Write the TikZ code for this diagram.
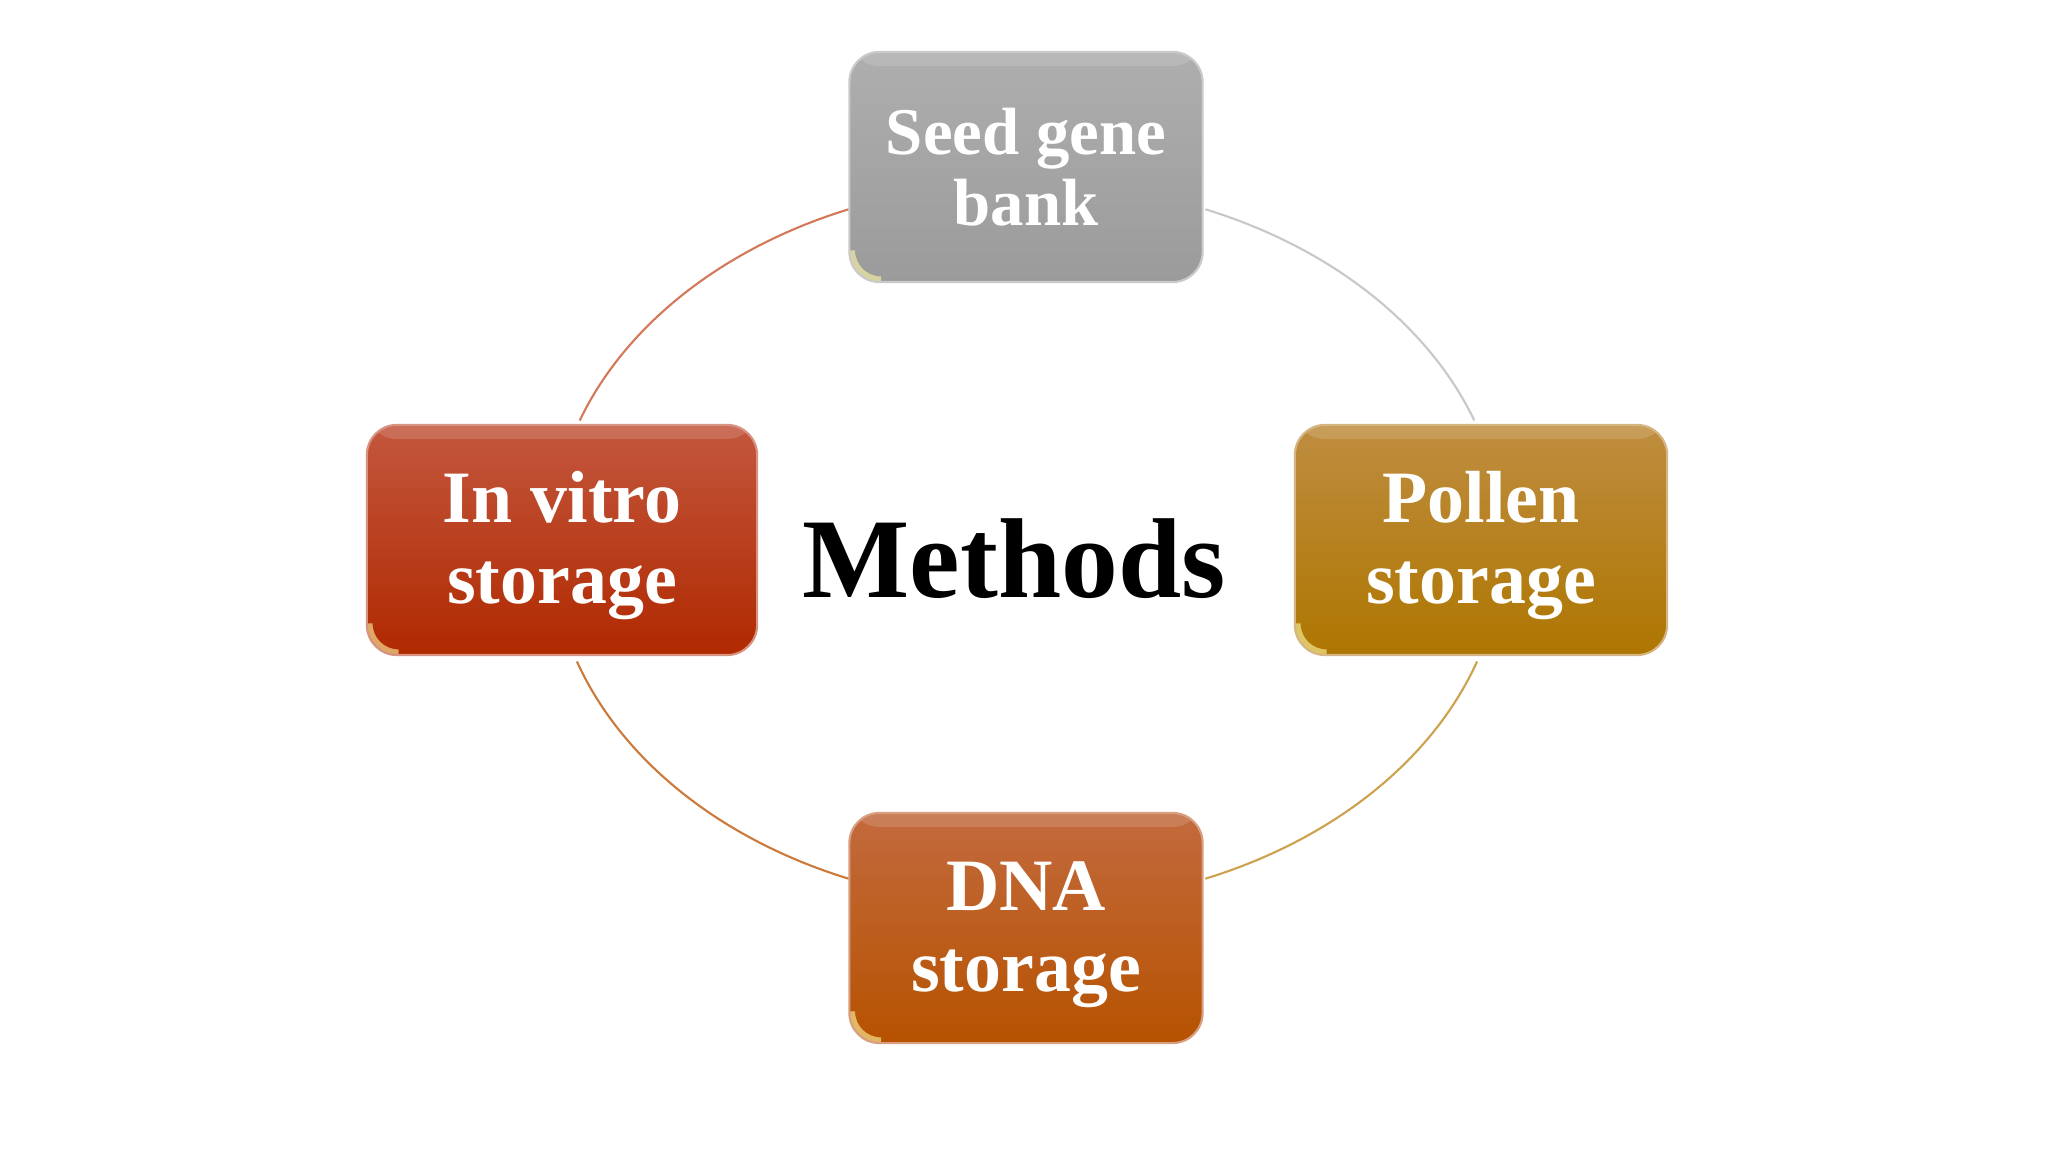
\documentclass[tikz,border=0pt]{standalone}
\usepackage{fontspec}
\setmainfont{Liberation Serif}
\usetikzlibrary{positioning}

\definecolor{seedtop}{HTML}{AEAEAE}
\definecolor{seedbot}{HTML}{9B9B9B}
\definecolor{vitrotop}{HTML}{C3573E}
\definecolor{vitrobot}{HTML}{B02900}
\definecolor{pollentop}{HTML}{BF8D40}
\definecolor{pollenbot}{HTML}{AE7600}
\definecolor{dnatop}{HTML}{C36A3E}
\definecolor{dnabot}{HTML}{B65200}
\definecolor{seedline}{HTML}{C8C8C8}
\definecolor{vitroline}{HTML}{D4785A}
\definecolor{pollenline}{HTML}{CDA24E}
\definecolor{dnaline}{HTML}{CB7A3C}
\newcommand\capstrut{\rule{0pt}{17.5pt}}

\begin{document}
\begin{tikzpicture}[x=0.01cm,y=0.01cm,
  methodbox/.style 2 args={rounded corners=0.3cm,top color=#1,bottom color=#2,
    draw=#1!65!white,line width=0.6pt,text=white,align=center,inner sep=0pt,
    font=\bfseries\fontsize{21}{23}\selectfont,minimum height=2.3cm,
    path picture={
      \fill[white,opacity=0.14] (path picture bounding box.north west)
        rectangle ([yshift=-4pt]path picture bounding box.north east);
      \draw[yellow!35!white,line width=1.6pt,opacity=0.6]
        ([xshift=0.8pt,yshift=9pt]path picture bounding box.south west)
        to[out=-90,in=180] ([xshift=9pt,yshift=0.8pt]path picture bounding box.south west);
    }},
  ring/.style={line width=0.6pt}]
  \fill[white] (0,0) rectangle (2048,1152);
  \coordinate (hub) at (1027,608);
  % ring segments between the boxes
  \draw[ring,vitroline] ([shift={(160:476 and 361)}]hub)
    arc[start angle=160,end angle=112,x radius=476,y radius=361];
  \draw[ring,seedline] ([shift={(68:476 and 361)}]hub)
    arc[start angle=68,end angle=20,x radius=476,y radius=361];
  \draw[ring,pollenline] ([shift={(-19:476 and 361)}]hub)
    arc[start angle=-19,end angle=-68,x radius=476,y radius=361];
  \draw[ring,dnaline] ([shift={(-112:476 and 361)}]hub)
    arc[start angle=-112,end angle=-161,x radius=476,y radius=361];
  % boxes
  \node[methodbox={seedtop}{seedbot},minimum width=3.53cm,
    font=\bfseries\fontsize{19}{20}\selectfont] (seed) at (1026,985) {Seed gene\\bank};
  \node[methodbox={vitrotop}{vitrobot},minimum width=3.9cm] (vitro) at (562,612) {\capstrut In vitro\\storage};
  \node[methodbox={pollentop}{pollenbot},minimum width=3.72cm] (pollen) at (1481,612) {\capstrut Pollen\\storage};
  \node[methodbox={dnatop}{dnabot},minimum width=3.53cm] (dna) at (1026,224) {\capstrut DNA\\storage};
  \node[font=\bfseries\fontsize{32.3}{36}\selectfont,anchor=base] (methods) at (1014,554) {Methods};
\end{tikzpicture}
\end{document}
